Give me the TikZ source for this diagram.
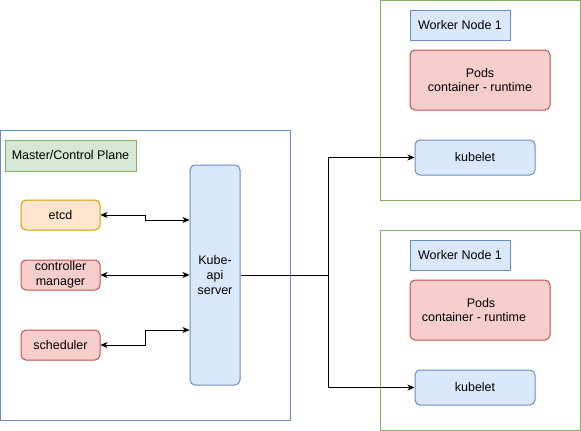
\documentclass[tikz,border=0pt]{standalone}
\usepackage{fontspec}
\setmainfont{Liberation Sans}
\usetikzlibrary{arrows.meta, calc}

\definecolor{bluefill}{HTML}{DAE8FC}
\definecolor{bluedraw}{HTML}{6C8EBF}
\definecolor{greenfill}{HTML}{D5E8D4}
\definecolor{greendraw}{HTML}{82B366}
\definecolor{orangefill}{HTML}{FFE6CC}
\definecolor{orangedraw}{HTML}{D79B00}
\definecolor{redfill}{HTML}{F8CECC}
\definecolor{reddraw}{HTML}{B85450}

\tikzset{
  box/.style={rectangle, draw, line width=1pt, inner sep=0pt, align=center, font=\fontsize{12.5}{14.8}\selectfont},
  frame/.style={box, fill=none},
  tag/.style={box, fill=bluefill, draw=bluedraw},
  part/.style={box, rounded corners=5pt},
  wire/.style={line width=1pt, -{Stealth[length=7pt, width=6pt, inset=2pt]}},
  dwire/.style={line width=1pt, {Stealth[length=7pt, width=6pt, inset=2pt]}-{Stealth[length=7pt, width=6pt, inset=2pt]}}
}

\begin{document}
\begin{tikzpicture}[x=1pt, y=-1pt]
\useasboundingbox (0,0) rectangle (581,431);

% master side
\path (145, 275) node[frame, draw=bluedraw, minimum width=290pt, minimum height=290pt] (master) {}
      (70.5, 155.5) node[box, fill=greenfill, draw=greendraw, minimum width=131pt, minimum height=31pt] (mlabel) {Master/Control Plane}
      (60.5, 215) node[part, fill=orangefill, draw=orangedraw, minimum width=79pt, minimum height=30pt] (etcd) {etcd}
      (60.5, 275) node[part, fill=redfill, draw=reddraw, minimum width=79pt, minimum height=30pt] (ctrl) {controller\\manager}
      (60.5, 345) node[part, fill=redfill, draw=reddraw, minimum width=79pt, minimum height=30pt] (sched) {scheduler}
      (215, 275) node[part, fill=bluefill, draw=bluedraw, minimum width=50pt, minimum height=220pt] (api) {Kube-\\api\\server};

% worker nodes
\path (480, 100) node[frame, draw=greendraw, minimum width=200pt, minimum height=200pt] (work1) {}
      (460, 25) node[tag, minimum width=100pt, minimum height=30pt] (wlabel1) {Worker Node 1}
      (480, 80) node[part, fill=redfill, draw=reddraw, minimum width=140pt, minimum height=60pt] (pods1) {Pods\\container - runtime}
      (475, 157.5) node[part, fill=bluefill, draw=bluedraw, minimum width=120pt, minimum height=35pt] (kube1) {kubelet}

      (480, 330) node[frame, draw=greendraw, minimum width=200pt, minimum height=200pt] (work2) {}
      (460, 255) node[tag, minimum width=100pt, minimum height=30pt] (wlabel2) {Worker Node 1}
      (480, 310) node[part, fill=redfill, draw=reddraw, minimum width=140pt, minimum height=60pt] (pods2) {\hspace*{2pt}Pods\\container - runtime\hspace*{12pt}}
      (475, 387.5) node[part, fill=bluefill, draw=bluedraw, minimum width=120pt, minimum height=35pt] (kube2) {kubelet};

% api links
\draw[dwire] (etcd.east) -- ++(45,0) |- ([yshift=55pt]api.west);
\draw[dwire] (ctrl.east) -- (api.west);
\draw[dwire] (sched.east) -- ++(45,0) |- ([yshift=-55pt]api.west);

\draw[wire] (api.east) -- ++(88,0) |- (kube1.west);
\draw[wire] (api.east) -- ++(88,0) |- (kube2.west);

\end{tikzpicture}
\end{document}
